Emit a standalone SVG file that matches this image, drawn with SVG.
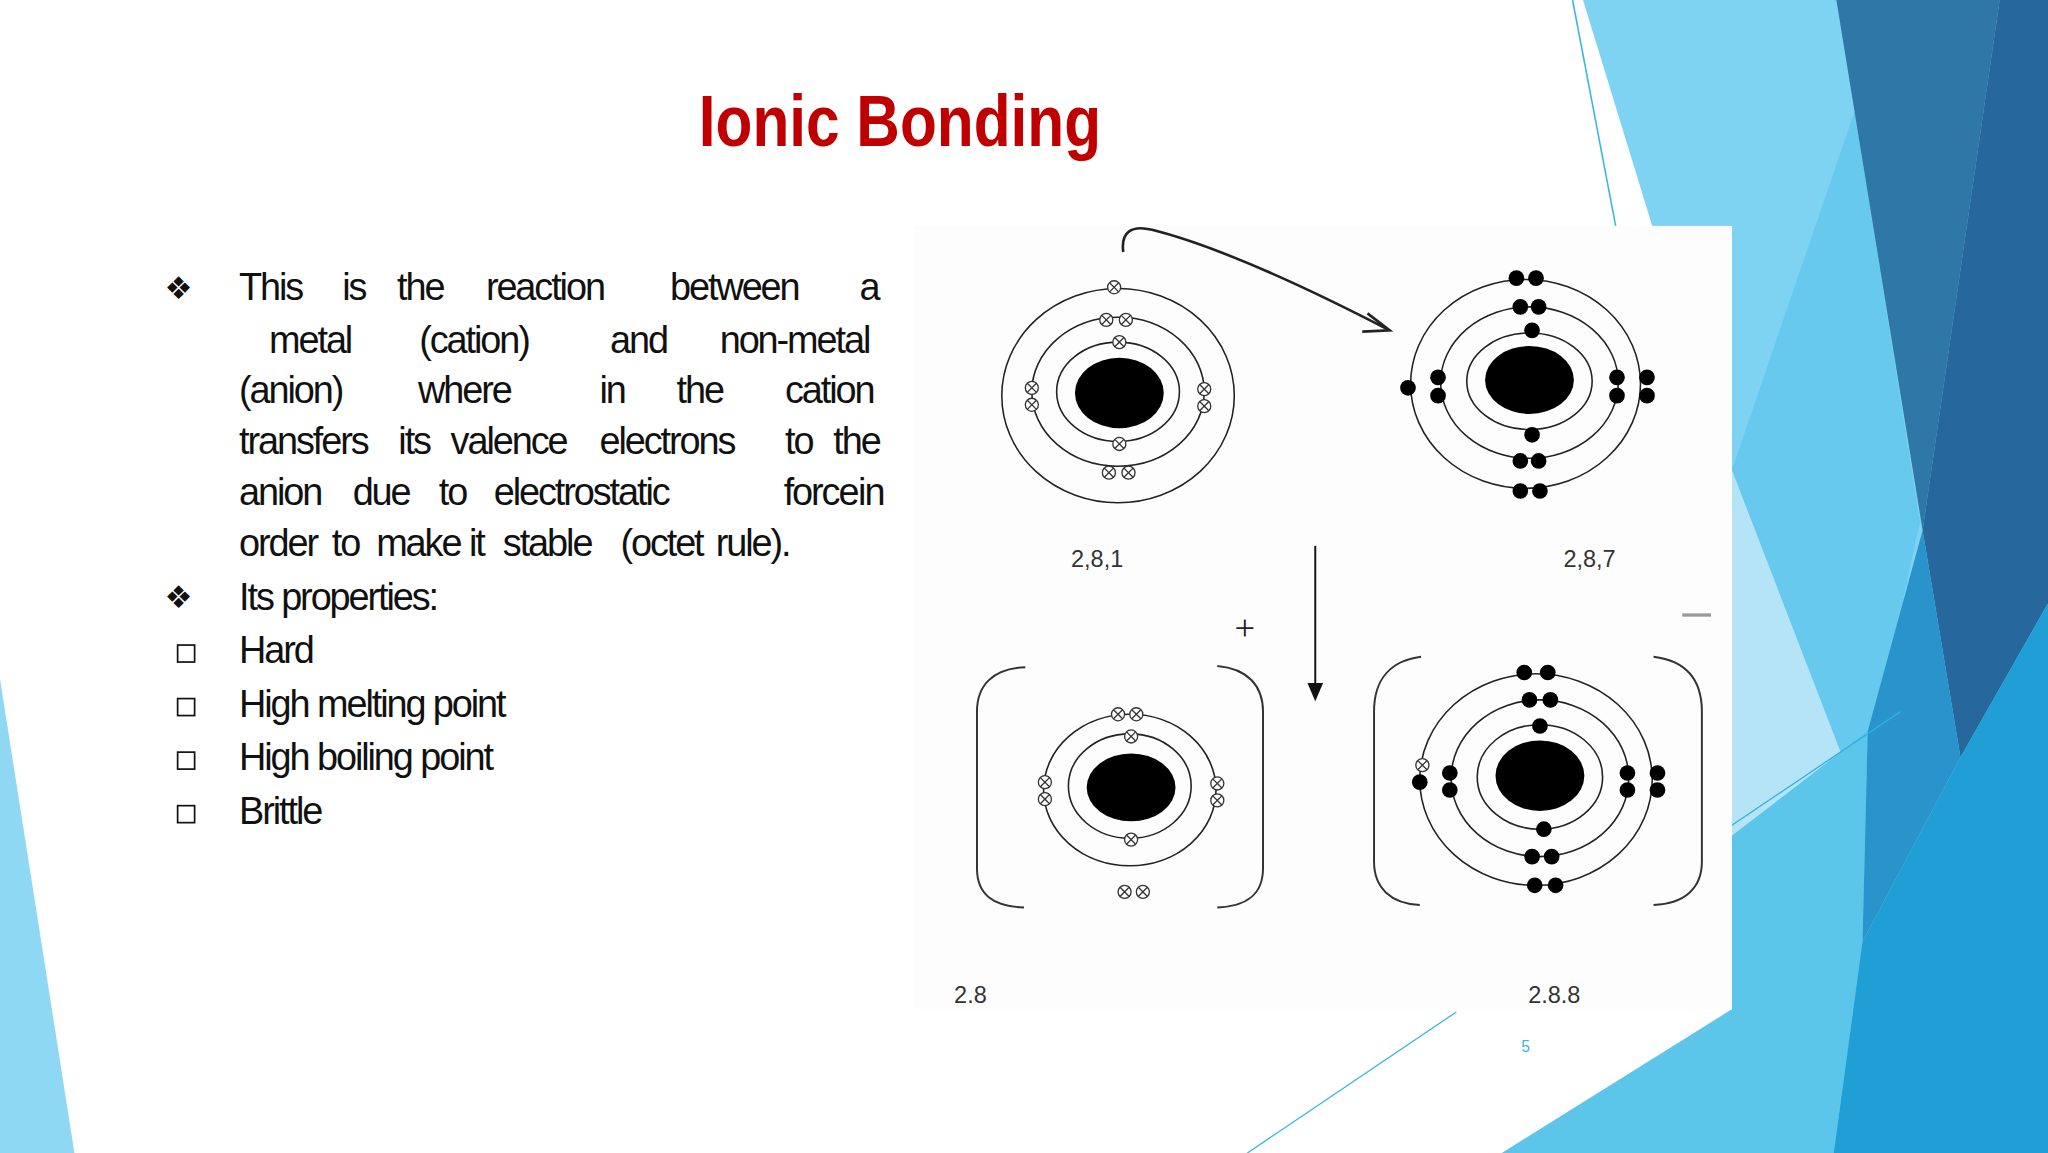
<svg xmlns="http://www.w3.org/2000/svg" xmlns:xlink="http://www.w3.org/1999/xlink" width="2048" height="1153" viewBox="0 0 2048 1153">
<style>
.body{font-family:"Liberation Sans",Arial,sans-serif;font-size:29px;fill:#111;letter-spacing:-1.6px}
.lab{font-family:"Liberation Sans",Arial,sans-serif;font-size:18px;fill:#333;text-anchor:middle}
.orb{fill:none;stroke:#222;stroke-width:1.2}
.nuc{fill:#000}
.br{fill:none;stroke:#333;stroke-width:1.5}
</style>
<defs>
<g id="ex"><circle r="5" fill="#fff" stroke="#333" stroke-width="1"/><path d="M-3.5,-3.5L3.5,3.5M3.5,-3.5L-3.5,3.5" stroke="#333" stroke-width="1"/></g>
<circle id="dot" r="6" fill="#000"/>
</defs>
<rect width="2048" height="1153" fill="#fff"/>
<g transform="scale(1.30612,1.30578)">
<g id="background">
<polygon points="0,520 0,883 57,883" fill="#8ed8f3"/>
<polygon points="1212,0 1568,0 1568,883 1150,883 1326,773 1326,173 1265,173" fill="#7dd3f1"/>
<polygon points="1420,85 1470,400 1426,600 1326,640 1326,360" fill="#68c9ee"/>
<polygon points="1326,360 1410,578 1326,640" fill="#b5e4f6"/>
<polygon points="1150,883 1326,773 1326,640 1430,560 1426,721 1404,883" fill="#5bc5ea"/>
<polygon points="1406,0 1531,0 1472,406" fill="#2e77a7"/>
<polygon points="1531,0 1568,0 1568,462 1501,580 1472,406" fill="#26679c"/>
<polygon points="1472,406 1501,580 1426,721 1430,560" fill="#2b93cc"/>
<polygon points="1568,462 1568,883 1404,883 1426,721 1501,580" fill="#1f9fd5"/>
<line x1="1204" y1="0" x2="1237" y2="173" stroke="#3bb5e0" stroke-width="1.2"/>
<line x1="1326" y1="632" x2="1455" y2="545" stroke="#30b0e0" stroke-width="1"/>
<line x1="955" y1="883" x2="1115" y2="775" stroke="#3bb5e0" stroke-width="1"/>
<text x="1168" y="806" font-family="Liberation Sans,sans-serif" font-size="12" fill="#3bb5e0" text-anchor="middle">5</text>
</g>
<text id="title" x="535" y="112" textLength="308" lengthAdjust="spacingAndGlyphs" font-family="Liberation Sans,Arial,sans-serif" font-weight="bold" font-size="56" fill="#c00000">Ionic Bonding</text>
<g id="text" class="body">
<text x="126" y="229" font-family="DejaVu Sans,sans-serif" font-size="24">❖</text>
<text x="126" y="466" font-family="DejaVu Sans,sans-serif" font-size="24">❖</text>
<text y="230"><tspan x="183">This</tspan><tspan x="262">is</tspan><tspan x="304">the</tspan><tspan x="372">reaction</tspan><tspan x="513">between</tspan><tspan x="658">a</tspan></text>
<text y="270"><tspan x="206">metal</tspan><tspan x="321">(cation)</tspan><tspan x="467">and</tspan><tspan x="551">non-metal</tspan></text>
<text y="309"><tspan x="183">(anion)</tspan><tspan x="320">where</tspan><tspan x="459">in</tspan><tspan x="518">the</tspan><tspan x="601">cation</tspan></text>
<text y="348"><tspan x="183">transfers</tspan><tspan x="305">its</tspan><tspan x="345">valence</tspan><tspan x="459">electrons</tspan><tspan x="601">to</tspan><tspan x="638">the</tspan></text>
<text y="387"><tspan x="183">anion</tspan><tspan x="270">due</tspan><tspan x="336">to</tspan><tspan x="378">electrostatic</tspan><tspan x="600">force</tspan><tspan x="657">in</tspan></text>
<text y="426"><tspan x="183">order</tspan><tspan x="254">to</tspan><tspan x="288">make</tspan><tspan x="359">it</tspan><tspan x="385">stable</tspan><tspan x="475">(octet</tspan><tspan x="548">rule).</tspan></text>
<text x="183" y="467">Its properties:</text>
<text x="183" y="508">Hard</text>
<text x="183" y="549">High melting point</text>
<text x="183" y="590">High boiling point</text>
<text x="183" y="631">Brittle</text>
<rect x="136" y="494" width="13" height="13" fill="none" stroke="#111" stroke-width="1.3"/>
<rect x="136" y="535" width="13" height="13" fill="none" stroke="#111" stroke-width="1.3"/>
<rect x="136" y="576" width="13" height="13" fill="none" stroke="#111" stroke-width="1.3"/>
<rect x="136" y="617" width="13" height="13" fill="none" stroke="#111" stroke-width="1.3"/>
</g>
<rect id="panel" x="700" y="173" width="626" height="600" fill="#fdfdfd"/>
<g id="atom-na">
<ellipse class="nuc" cx="857" cy="301" rx="34" ry="27"/>
<ellipse class="orb" cx="856" cy="300" rx="47" ry="38"/>
<ellipse class="orb" cx="856" cy="300" rx="66" ry="57"/>
<ellipse class="orb" cx="856" cy="303" rx="89" ry="82"/>
<use href="#ex" x="857" y="262"/><use href="#ex" x="857" y="340"/>
<use href="#ex" x="847" y="245"/><use href="#ex" x="862" y="245"/>
<use href="#ex" x="849" y="362"/><use href="#ex" x="864" y="362"/>
<use href="#ex" x="790" y="297"/><use href="#ex" x="790" y="310"/>
<use href="#ex" x="922" y="298"/><use href="#ex" x="922" y="311"/>
<use href="#ex" x="853" y="220"/>
<text class="lab" x="840" y="434">2,8,1</text>
</g>
<g id="atom-cl">
<ellipse class="nuc" cx="1171" cy="291" rx="34" ry="26"/>
<ellipse class="orb" cx="1171" cy="292" rx="48" ry="37"/>
<ellipse class="orb" cx="1171" cy="293" rx="68" ry="58"/>
<ellipse class="orb" cx="1168" cy="294" rx="88" ry="80"/>
<use href="#dot" x="1173" y="253"/><use href="#dot" x="1173" y="333"/>
<use href="#dot" x="1164" y="235"/><use href="#dot" x="1178" y="235"/>
<use href="#dot" x="1164" y="353"/><use href="#dot" x="1178" y="353"/>
<use href="#dot" x="1101" y="289"/><use href="#dot" x="1101" y="303"/>
<use href="#dot" x="1238" y="289"/><use href="#dot" x="1238" y="303"/>
<use href="#dot" x="1161" y="213"/><use href="#dot" x="1176" y="213"/>
<use href="#dot" x="1164" y="376"/><use href="#dot" x="1179" y="376"/>
<use href="#dot" x="1078" y="297"/>
<use href="#dot" x="1261" y="289"/><use href="#dot" x="1261" y="303"/>
<text class="lab" x="1217" y="434">2,8,7</text>
</g>
<g id="ion-na">
<path class="br" d="M785,511 C760,512 748,525 748,545 L748,665 C748,685 760,694 784,695"/>
<path class="br" d="M932,510 C955,512 967,525 967,545 L967,665 C967,685 955,694 932,695"/>
<ellipse class="nuc" cx="866" cy="603" rx="34" ry="26"/>
<ellipse class="orb" cx="865" cy="602" rx="47" ry="40"/>
<ellipse class="orb" cx="865" cy="605" rx="66" ry="58"/>
<use href="#ex" x="856" y="547"/><use href="#ex" x="870" y="547"/>
<use href="#ex" x="866" y="564"/><use href="#ex" x="866" y="643"/>
<use href="#ex" x="800" y="599"/><use href="#ex" x="800" y="612"/>
<use href="#ex" x="932" y="600"/><use href="#ex" x="932" y="613"/>
<use href="#ex" x="861" y="683"/><use href="#ex" x="875" y="683"/>
<text class="lab" x="743" y="768">2.8</text>
<text x="953" y="490" font-family="Liberation Serif,serif" font-size="28" fill="#222" text-anchor="middle">+</text>
</g>
<g id="ion-cl">
<path class="br" d="M1088,503 C1065,506 1052,520 1052,545 L1052,660 C1052,680 1065,692 1087,693"/>
<path class="br" d="M1266,503 C1290,506 1303,520 1303,545 L1303,660 C1303,680 1290,692 1266,693"/>
<ellipse class="nuc" cx="1179" cy="594" rx="34" ry="27"/>
<ellipse class="orb" cx="1179" cy="595" rx="48" ry="40"/>
<ellipse class="orb" cx="1179" cy="596" rx="68" ry="60"/>
<ellipse class="orb" cx="1176" cy="597" rx="89" ry="81"/>
<use href="#dot" x="1167" y="515"/><use href="#dot" x="1185" y="515"/>
<use href="#dot" x="1171" y="536"/><use href="#dot" x="1187" y="536"/>
<use href="#dot" x="1179" y="556"/><use href="#dot" x="1182" y="635"/>
<use href="#dot" x="1173" y="656"/><use href="#dot" x="1188" y="656"/>
<use href="#dot" x="1175" y="678"/><use href="#dot" x="1191" y="678"/>
<use href="#dot" x="1110" y="592"/><use href="#dot" x="1110" y="605"/>
<use href="#dot" x="1246" y="592"/><use href="#dot" x="1246" y="605"/>
<use href="#dot" x="1269" y="592"/><use href="#dot" x="1269" y="605"/>
<use href="#dot" x="1087" y="599"/><use href="#ex" x="1089" y="586"/>
<text class="lab" x="1190" y="768">2.8.8</text>
<line x1="1288" y1="471" x2="1310" y2="471" stroke="#999" stroke-width="2.5"/>
</g>
<g id="connectors">
<path d="M860,193 C858,178 866,172 882,176 C930,188 1000,220 1062,252" fill="none" stroke="#222" stroke-width="2"/>
<path d="M1047,240 L1064,253 L1043,254" fill="none" stroke="#222" stroke-width="2"/>
<line x1="1007" y1="418" x2="1007" y2="525" stroke="#111" stroke-width="1.5"/>
<polygon points="1001,523 1013,523 1007,537" fill="#111"/>
</g>
</g>
</svg>
